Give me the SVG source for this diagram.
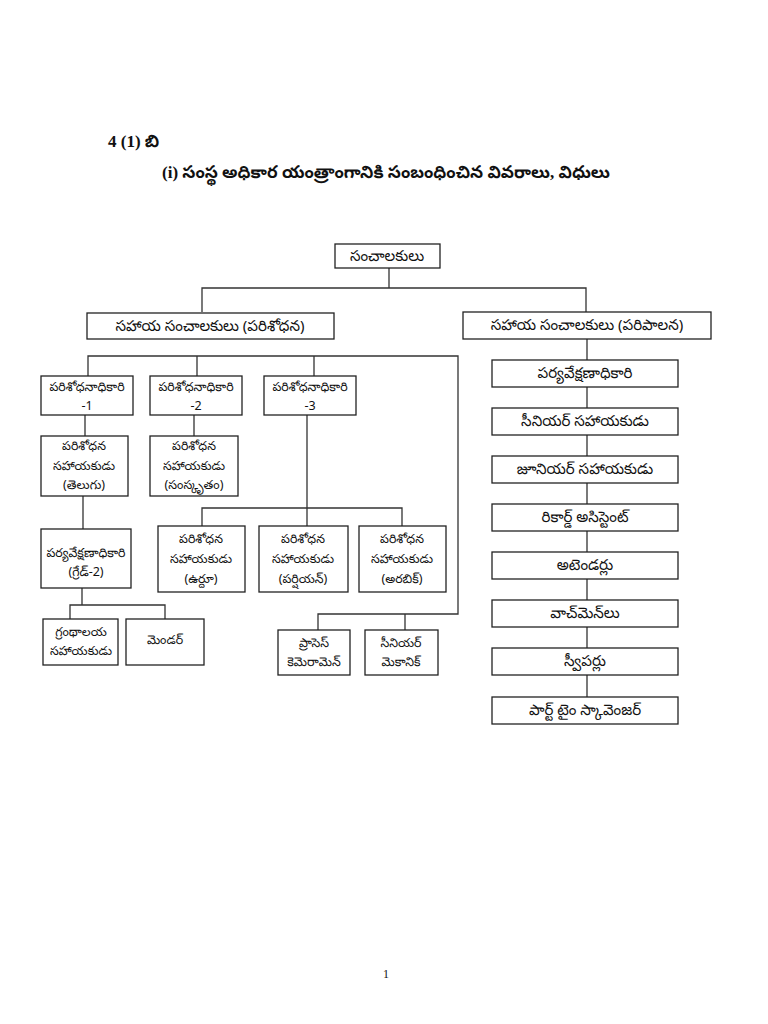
<svg xmlns="http://www.w3.org/2000/svg" width="768" height="1024" viewBox="0 0 768 1024">
<style>
rect{fill:#fff;stroke:#222;stroke-width:1.3}
.c path{fill:none;stroke:#333;stroke-width:1.3}
text{font-family:"Noto Sans","Noto Sans Telugu",sans-serif;font-size:12.5px;fill:#111;text-anchor:middle}
.b{font-size:15px}
.h{font-family:"Liberation Serif","Noto Sans Telugu",serif;font-weight:bold;font-size:17px;text-anchor:start}
</style>
<rect x="0" y="0" width="768" height="1024" style="fill:#fff;stroke:none"/>
<text class="h" x="108" y="147">4 (1)   బి</text>
<text class="h" x="162" y="178">(i) సంస్థ అధికార యంత్రాంగానికి సంబంధించిన వివరాలు, విధులు</text>
<g class="c">
<path d="M389 268V288M202 312V288H586V312"/>
<path d="M88 376V356H458V614H318V630M405 614V630M197 356V376M314 356V376"/>
<path d="M85 415V436M194 415V436M83 496V529M82 588V605H70V619M70 605H165V619"/>
<path d="M307 415V508M202 526V508H402V526M307 508V526"/>
<path d="M587 339V360M587 387V408M587 435V456M587 483V504M587 531V552M587 579V600M587 627V648M587 675V697"/>
</g>
<g id="n0"><rect x="335" y="244" width="105" height="24"/><text class="b" x="387" y="261">సంచాలకులు</text></g>
<g id="n1"><rect x="87" y="313" width="247" height="26"/><text class="b" x="210" y="331">సహాయ సంచాలకులు (పరిశోధన)</text></g>
<g id="n2"><rect x="463" y="312" width="248" height="27"/><text class="b" x="587" y="330">సహాయ సంచాలకులు (పరిపాలన)</text></g>
<g id="b1"><rect x="41" y="376" width="92" height="39"/><text x="87" y="391">పరిశోధనాధికారి</text><text x="87" y="410">-1</text></g>
<g id="b2"><rect x="150" y="376" width="92" height="39"/><text x="196" y="391">పరిశోధనాధికారి</text><text x="196" y="410">-2</text></g>
<g id="b3"><rect x="264" y="376" width="92" height="39"/><text x="310" y="391">పరిశోధనాధికారి</text><text x="310" y="410">-3</text></g>
<g id="a1"><rect x="41" y="436" width="87" height="60"/><text x="84" y="450">పరిశోధన</text><text x="84" y="470">సహాయకుడు</text><text x="84" y="489">(తెలుగు)</text></g>
<g id="a2"><rect x="150" y="436" width="88" height="60"/><text x="194" y="450">పరిశోధన</text><text x="194" y="470">సహాయకుడు</text><text x="194" y="489">(సంస్కృతం)</text></g>
<g id="g2"><rect x="41" y="529" width="90" height="59"/><text x="86" y="557">పర్యవేక్షణాధికారి</text><text x="86" y="576">(గ్రేడ్-2)</text></g>
<g id="u"><rect x="158" y="526" width="87" height="66"/><text x="201" y="543">పరిశోధన</text><text x="201" y="563">సహాయకుడు</text><text x="201" y="583">(ఉర్దూ)</text></g>
<g id="p"><rect x="259" y="526" width="89" height="66"/><text x="303" y="543">పరిశోధన</text><text x="303" y="563">సహాయకుడు</text><text x="303" y="583">(పర్షియన్)</text></g>
<g id="ar"><rect x="359" y="526" width="87" height="66"/><text x="402" y="543">పరిశోధన</text><text x="402" y="563">సహాయకుడు</text><text x="402" y="583">(అరబిక్)</text></g>
<g id="l"><rect x="43" y="619" width="75" height="46"/><text x="81" y="636">గ్రంథాలయ</text><text x="81" y="655">సహాయకుడు</text></g>
<g id="m"><rect x="126" y="619" width="78" height="46"/><text x="165" y="644">మెండర్</text></g>
<g id="pc"><rect x="278" y="630" width="72" height="45"/><text x="314" y="647">ప్రాసెస్</text><text x="314" y="666">కెమెరామెన్</text></g>
<g id="sm"><rect x="365" y="630" width="73" height="45"/><text x="401" y="647">సీనియర్</text><text x="401" y="666">మెకానిక్</text></g>
<g id="r1"><rect x="492" y="360" width="186" height="27"/><text class="b" x="585" y="378">పర్యవేక్షణాధికారి</text></g>
<g id="r2"><rect x="492" y="408" width="186" height="27"/><text class="b" x="585" y="426">సీనియర్ సహాయకుడు</text></g>
<g id="r3"><rect x="492" y="456" width="186" height="27"/><text class="b" x="585" y="474">జూనియర్ సహాయకుడు</text></g>
<g id="r4"><rect x="492" y="504" width="186" height="27"/><text class="b" x="585" y="522">రికార్డ్ అసిస్టెంట్</text></g>
<g id="r5"><rect x="492" y="552" width="186" height="27"/><text class="b" x="585" y="570">అటెండర్లు</text></g>
<g id="r6"><rect x="492" y="600" width="186" height="27"/><text class="b" x="585" y="618">వాచ్‌మెన్‌లు</text></g>
<g id="r7"><rect x="492" y="648" width="186" height="27"/><text class="b" x="585" y="666">స్వీపర్లు</text></g>
<g id="r8"><rect x="492" y="697" width="186" height="27"/><text class="b" x="585" y="715">పార్ట్ టైం స్కావెంజర్</text></g>
<text style="font-family:'Liberation Serif',serif;font-size:12px" x="386" y="978">1</text>
</svg>
